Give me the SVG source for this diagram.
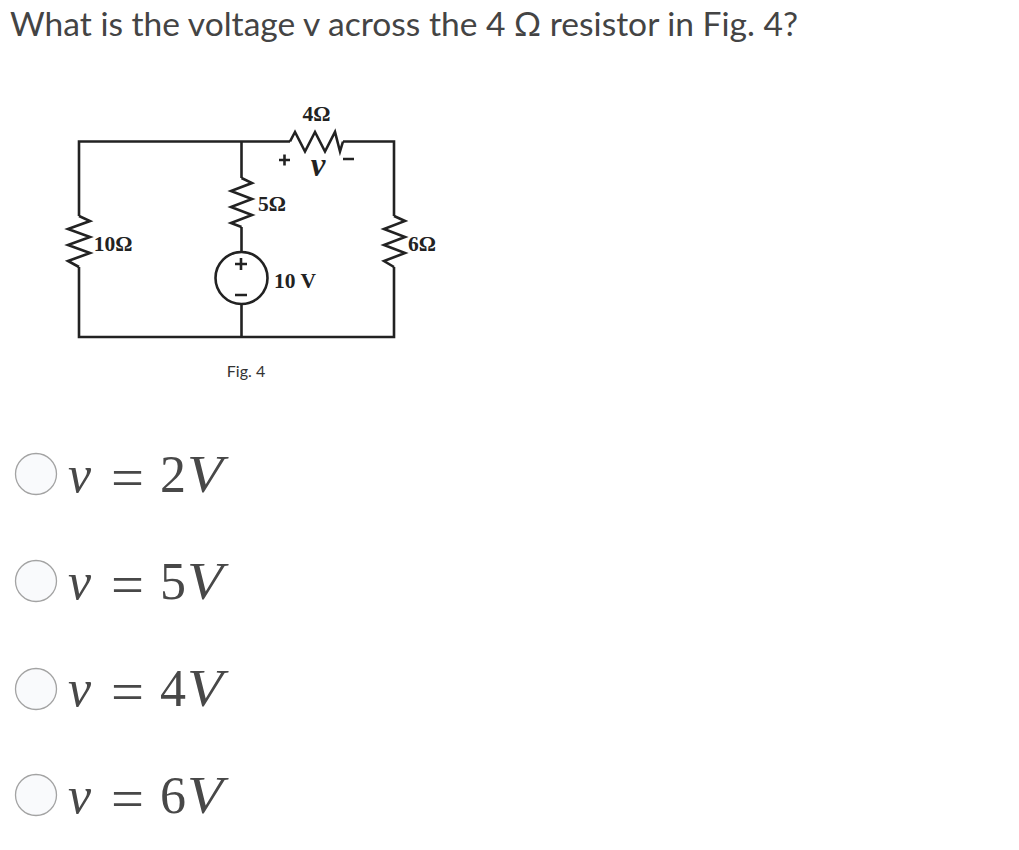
<svg xmlns="http://www.w3.org/2000/svg" width="1019" height="850" viewBox="0 0 1019 850">
<style>
.w{fill:none;stroke:#222;stroke-width:2.6;stroke-linejoin:miter}
.s{font-family:"Liberation Serif",serif;font-weight:bold;fill:#222;font-size:21.5px}
.vv{font-family:"Liberation Serif",serif;font-weight:bold;font-style:italic;fill:#222;font-size:33px}
.m{font-family:"Liberation Serif",serif;fill:#484848;font-size:52px}
.e{font-size:56px}
.i{font-style:italic}
.r{fill:#f9fafc;stroke:#a3a3a3;stroke-width:1.3}
.sign{stroke:#222;stroke-width:2.6;fill:none}
</style>
<rect width="1019" height="850" fill="#fff"/>
<text id="question" x="10" y="36" font-family="Lato, sans-serif" font-size="32.5" fill="#444" textLength="788" lengthAdjust="spacingAndGlyphs">What is the voltage v across the 4 Ω resistor in Fig. 4?</text>
<g id="connectors">
<path class="w" d="M79 216V141.5H290M343 141.500H394V216M394 267V337H79V267M241.5 141.5V178M241.5 227V252M241.5 304V337"/>
</g>
<g id="r4"><path class="w" d="M290 141.500L295 132L305 151.500L315 132L325 151.500L335 132L340 151.500L343 141.500"/><text class="s" x="316.500" y="121" text-anchor="middle">4Ω</text></g>
<g id="r5"><path class="w" d="M241.5 178L252 183L231 191L252 199L231 207L252 215L231 223L241.5 227"/><text class="s" x="272" y="211" text-anchor="middle">5Ω</text></g>
<g id="r10"><path class="w" d="M79 216L90 221L68 229L90 237L68 245L90 253L68 261L79 267"/><text class="s" x="113" y="251" text-anchor="middle">10Ω</text></g>
<g id="r6"><path class="w" d="M394 216L405 221L384 229L405 237L384 245L405 253L384 261L394 267"/><text class="s" x="422" y="251" text-anchor="middle">6Ω</text></g>
<g id="source"><circle class="w" cx="241.5" cy="278" r="26"/><path class="sign" d="M235 264H247M241 258V270M235 295H247"/><text class="s" x="295" y="288" text-anchor="middle">10 V</text></g>
<g id="polarity"><path class="sign" d="M279 160H290M284.500 154.500V165.500M343 159H354"/><text class="vv" x="318" y="176" text-anchor="middle">v</text></g>
<text id="fig" x="246" y="377" text-anchor="middle" font-family="Lato, sans-serif" font-size="16" fill="#333">Fig. 4</text>
<g id="opt1"><circle class="r" cx="36" cy="474" r="20.500"/><text class="m i" x="68" y="492">v</text><text class="m e" x="111" y="497" textLength="33" lengthAdjust="spacingAndGlyphs">=</text><text class="m" x="160" y="492">2</text><text class="m i" x="187" y="492" textLength="36" lengthAdjust="spacingAndGlyphs">V</text></g>
<g id="opt2"><circle class="r" cx="36" cy="581" r="20.500"/><text class="m i" x="68" y="599">v</text><text class="m e" x="111" y="604" textLength="33" lengthAdjust="spacingAndGlyphs">=</text><text class="m" x="160" y="599">5</text><text class="m i" x="187" y="599" textLength="36" lengthAdjust="spacingAndGlyphs">V</text></g>
<g id="opt3"><circle class="r" cx="36" cy="689" r="20.500"/><text class="m i" x="68" y="706">v</text><text class="m e" x="111" y="711" textLength="33" lengthAdjust="spacingAndGlyphs">=</text><text class="m" x="160" y="706">4</text><text class="m i" x="187" y="706" textLength="36" lengthAdjust="spacingAndGlyphs">V</text></g>
<g id="opt4"><circle class="r" cx="36" cy="795" r="20.500"/><text class="m i" x="68" y="813">v</text><text class="m e" x="111" y="818" textLength="33" lengthAdjust="spacingAndGlyphs">=</text><text class="m" x="160" y="813">6</text><text class="m i" x="187" y="813" textLength="36" lengthAdjust="spacingAndGlyphs">V</text></g>
</svg>
